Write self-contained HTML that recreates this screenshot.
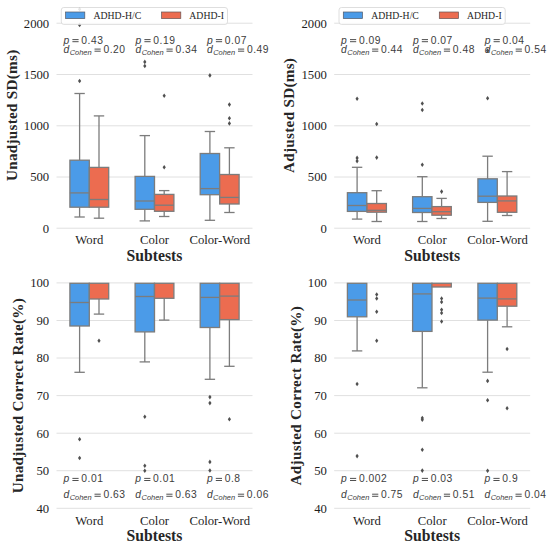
<!DOCTYPE html>
<html><head><meta charset="utf-8"><style>
html,body{margin:0;padding:0;background:#fff;width:550px;height:545px;overflow:hidden}
svg{display:block}
.tick{font-family:"Liberation Serif",serif;font-size:12.7px;fill:#1e1e1e}
.lab{font-family:"Liberation Serif",serif;font-size:15.7px;font-weight:bold;fill:#262626}
.ylab{font-family:"Liberation Serif",serif;font-size:15.2px;font-weight:bold;fill:#262626}
.leg{font-family:"Liberation Serif",serif;font-size:9.75px;fill:#262626}
.ann{font-family:"Liberation Sans",sans-serif;font-size:10.3px;fill:#3c3c3c}
.sub{font-size:7px}
</style></head><body>
<svg width="550" height="545" viewBox="0 0 550 545">
<rect width="550" height="545" fill="#fff"/>
<line x1="56.5" y1="23.2" x2="252.5" y2="23.2" stroke="#e0e0e0" stroke-width="1"/>
<text x="49.2" y="27.6" class="tick" text-anchor="end">2000</text>
<line x1="56.5" y1="74.5" x2="252.5" y2="74.5" stroke="#e0e0e0" stroke-width="1"/>
<text x="49.2" y="78.9" class="tick" text-anchor="end">1500</text>
<line x1="56.5" y1="125.8" x2="252.5" y2="125.8" stroke="#e0e0e0" stroke-width="1"/>
<text x="49.2" y="130.2" class="tick" text-anchor="end">1000</text>
<line x1="56.5" y1="177.0" x2="252.5" y2="177.0" stroke="#e0e0e0" stroke-width="1"/>
<text x="49.2" y="181.4" class="tick" text-anchor="end">500</text>
<line x1="56.5" y1="228.2" x2="252.5" y2="228.2" stroke="#e0e0e0" stroke-width="1"/>
<text x="49.2" y="232.6" class="tick" text-anchor="end">0</text>
<line x1="79.6" y1="93.5" x2="79.6" y2="160.2" stroke="#7c7c7c" stroke-width="1.3"/>
<line x1="74.4" y1="93.5" x2="84.8" y2="93.5" stroke="#7c7c7c" stroke-width="1.3"/>
<line x1="79.6" y1="207.2" x2="79.6" y2="217.0" stroke="#7c7c7c" stroke-width="1.3"/>
<line x1="74.4" y1="217.0" x2="84.8" y2="217.0" stroke="#7c7c7c" stroke-width="1.3"/>
<rect x="69.9" y="160.2" width="19.4" height="47.0" fill="#4b9be8" stroke="#7c7c7c" stroke-width="1.3"/>
<line x1="69.9" y1="192.9" x2="89.3" y2="192.9" stroke="#7c7c7c" stroke-width="1.3"/>
<path d="M79.6 78.7 L81.2 81.0 L79.6 83.3 L78.0 81.0 Z" fill="#505050"/>
<path d="M79.6 22.6 L81.2 24.9 L79.6 27.2 L78.0 24.9 Z" fill="#505050"/>
<path d="M79.6 7.0 L81.2 9.3 L79.6 11.6 L78.0 9.3 Z" fill="#505050"/>
<line x1="99.0" y1="115.9" x2="99.0" y2="167.4" stroke="#7c7c7c" stroke-width="1.3"/>
<line x1="93.8" y1="115.9" x2="104.2" y2="115.9" stroke="#7c7c7c" stroke-width="1.3"/>
<line x1="99.0" y1="207.2" x2="99.0" y2="218.2" stroke="#7c7c7c" stroke-width="1.3"/>
<line x1="93.8" y1="218.2" x2="104.2" y2="218.2" stroke="#7c7c7c" stroke-width="1.3"/>
<rect x="89.3" y="167.4" width="19.4" height="39.8" fill="#ec6c50" stroke="#7c7c7c" stroke-width="1.3"/>
<line x1="89.3" y1="199.5" x2="108.7" y2="199.5" stroke="#7c7c7c" stroke-width="1.3"/>
<line x1="144.8" y1="135.6" x2="144.8" y2="176.4" stroke="#7c7c7c" stroke-width="1.3"/>
<line x1="139.6" y1="135.6" x2="150.0" y2="135.6" stroke="#7c7c7c" stroke-width="1.3"/>
<line x1="144.8" y1="209.3" x2="144.8" y2="220.9" stroke="#7c7c7c" stroke-width="1.3"/>
<line x1="139.6" y1="220.9" x2="150.0" y2="220.9" stroke="#7c7c7c" stroke-width="1.3"/>
<rect x="135.1" y="176.4" width="19.4" height="32.9" fill="#4b9be8" stroke="#7c7c7c" stroke-width="1.3"/>
<line x1="135.1" y1="201.0" x2="154.5" y2="201.0" stroke="#7c7c7c" stroke-width="1.3"/>
<path d="M144.8 59.6 L146.4 61.9 L144.8 64.2 L143.2 61.9 Z" fill="#505050"/>
<path d="M144.8 63.7 L146.4 66.0 L144.8 68.3 L143.2 66.0 Z" fill="#505050"/>
<line x1="164.2" y1="190.6" x2="164.2" y2="194.4" stroke="#7c7c7c" stroke-width="1.3"/>
<line x1="159.0" y1="190.6" x2="169.4" y2="190.6" stroke="#7c7c7c" stroke-width="1.3"/>
<line x1="164.2" y1="211.3" x2="164.2" y2="216.5" stroke="#7c7c7c" stroke-width="1.3"/>
<line x1="159.0" y1="216.5" x2="169.4" y2="216.5" stroke="#7c7c7c" stroke-width="1.3"/>
<rect x="154.5" y="194.4" width="19.4" height="16.9" fill="#ec6c50" stroke="#7c7c7c" stroke-width="1.3"/>
<line x1="154.5" y1="205.2" x2="173.9" y2="205.2" stroke="#7c7c7c" stroke-width="1.3"/>
<path d="M164.2 93.4 L165.8 95.7 L164.2 98.0 L162.6 95.7 Z" fill="#505050"/>
<path d="M164.2 165.0 L165.8 167.3 L164.2 169.6 L162.6 167.3 Z" fill="#505050"/>
<line x1="209.9" y1="131.5" x2="209.9" y2="153.5" stroke="#7c7c7c" stroke-width="1.3"/>
<line x1="204.7" y1="131.5" x2="215.1" y2="131.5" stroke="#7c7c7c" stroke-width="1.3"/>
<line x1="209.9" y1="194.7" x2="209.9" y2="220.3" stroke="#7c7c7c" stroke-width="1.3"/>
<line x1="204.7" y1="220.3" x2="215.1" y2="220.3" stroke="#7c7c7c" stroke-width="1.3"/>
<rect x="200.2" y="153.5" width="19.4" height="41.2" fill="#4b9be8" stroke="#7c7c7c" stroke-width="1.3"/>
<line x1="200.2" y1="188.6" x2="219.6" y2="188.6" stroke="#7c7c7c" stroke-width="1.3"/>
<path d="M209.9 73.1 L211.5 75.4 L209.9 77.7 L208.3 75.4 Z" fill="#505050"/>
<line x1="229.4" y1="147.8" x2="229.4" y2="174.5" stroke="#7c7c7c" stroke-width="1.3"/>
<line x1="224.2" y1="147.8" x2="234.6" y2="147.8" stroke="#7c7c7c" stroke-width="1.3"/>
<line x1="229.4" y1="204.0" x2="229.4" y2="212.5" stroke="#7c7c7c" stroke-width="1.3"/>
<line x1="224.2" y1="212.5" x2="234.6" y2="212.5" stroke="#7c7c7c" stroke-width="1.3"/>
<rect x="219.7" y="174.5" width="19.4" height="29.5" fill="#ec6c50" stroke="#7c7c7c" stroke-width="1.3"/>
<line x1="219.7" y1="197.4" x2="239.1" y2="197.4" stroke="#7c7c7c" stroke-width="1.3"/>
<path d="M229.4 102.3 L231.0 104.6 L229.4 106.9 L227.8 104.6 Z" fill="#505050"/>
<path d="M229.4 116.0 L231.0 118.3 L229.4 120.6 L227.8 118.3 Z" fill="#505050"/>
<path d="M229.4 121.1 L231.0 123.4 L229.4 125.7 L227.8 123.4 Z" fill="#505050"/>
<text class="ann" y="43.6"><tspan x="63.5" font-style="italic">p</tspan><tspan x="81.3" textLength="21.6" lengthAdjust="spacing">0.43</tspan></text>
<text class="ann" y="53.1"><tspan x="63.5" font-style="italic">d</tspan><tspan x="69.7" dy="2.2" font-style="italic" class="sub" textLength="22" lengthAdjust="spacingAndGlyphs">Cohen</tspan><tspan x="103.4" dy="-2.2" textLength="21.6" lengthAdjust="spacing">0.20</tspan></text>
<path d="M72.4 39.60h6.2M72.4 41.70h6.2" stroke="#3c3c3c" stroke-width="0.9" fill="none"/>
<path d="M94.5 49.10h6.2M94.5 51.20h6.2" stroke="#3c3c3c" stroke-width="0.9" fill="none"/>
<text class="ann" y="43.6"><tspan x="135.5" font-style="italic">p</tspan><tspan x="153.3" textLength="21.6" lengthAdjust="spacing">0.19</tspan></text>
<text class="ann" y="53.1"><tspan x="135.5" font-style="italic">d</tspan><tspan x="141.7" dy="2.2" font-style="italic" class="sub" textLength="22" lengthAdjust="spacingAndGlyphs">Cohen</tspan><tspan x="175.4" dy="-2.2" textLength="21.6" lengthAdjust="spacing">0.34</tspan></text>
<path d="M144.4 39.60h6.2M144.4 41.70h6.2" stroke="#3c3c3c" stroke-width="0.9" fill="none"/>
<path d="M166.5 49.10h6.2M166.5 51.20h6.2" stroke="#3c3c3c" stroke-width="0.9" fill="none"/>
<text class="ann" y="43.6"><tspan x="207.0" font-style="italic">p</tspan><tspan x="224.8" textLength="21.6" lengthAdjust="spacing">0.07</tspan></text>
<text class="ann" y="53.1"><tspan x="207.0" font-style="italic">d</tspan><tspan x="213.2" dy="2.2" font-style="italic" class="sub" textLength="22" lengthAdjust="spacingAndGlyphs">Cohen</tspan><tspan x="246.9" dy="-2.2" textLength="21.6" lengthAdjust="spacing">0.49</tspan></text>
<path d="M215.9 39.60h6.2M215.9 41.70h6.2" stroke="#3c3c3c" stroke-width="0.9" fill="none"/>
<path d="M238.0 49.10h6.2M238.0 51.20h6.2" stroke="#3c3c3c" stroke-width="0.9" fill="none"/>
<text x="89.3" y="244.1" class="tick" text-anchor="middle">Word</text>
<text x="154.5" y="244.1" class="tick" text-anchor="middle">Color</text>
<text x="219.8" y="244.1" class="tick" text-anchor="middle">Color-Word</text>
<text x="154.5" y="260.9" class="lab" text-anchor="middle">Subtests</text>
<text transform="translate(16.6,115.4) rotate(-90)" x="0" y="0" class="ylab" text-anchor="middle" textLength="131.2" lengthAdjust="spacing">Unadjusted SD(ms)</text>
<rect x="61.3" y="7.5" width="166.2" height="16.9" rx="2.5" fill="#ffffff" fill-opacity="0.85" stroke="#d6d6d6" stroke-width="0.8"/>
<rect x="65.6" y="12.0" width="19.2" height="6.6" fill="#4b9be8" stroke="#555a66" stroke-width="0.7"/>
<text x="93.5" y="19.3" class="leg">ADHD-H/C</text>
<rect x="161.6" y="12.0" width="19.2" height="6.6" fill="#ec6c50" stroke="#665555" stroke-width="0.7"/>
<text x="189.3" y="19.3" class="leg">ADHD-I</text>
<line x1="334.2" y1="23.2" x2="530.2" y2="23.2" stroke="#e0e0e0" stroke-width="1"/>
<text x="326.9" y="27.6" class="tick" text-anchor="end">2000</text>
<line x1="334.2" y1="74.5" x2="530.2" y2="74.5" stroke="#e0e0e0" stroke-width="1"/>
<text x="326.9" y="78.9" class="tick" text-anchor="end">1500</text>
<line x1="334.2" y1="125.8" x2="530.2" y2="125.8" stroke="#e0e0e0" stroke-width="1"/>
<text x="326.9" y="130.2" class="tick" text-anchor="end">1000</text>
<line x1="334.2" y1="177.0" x2="530.2" y2="177.0" stroke="#e0e0e0" stroke-width="1"/>
<text x="326.9" y="181.4" class="tick" text-anchor="end">500</text>
<line x1="334.2" y1="228.2" x2="530.2" y2="228.2" stroke="#e0e0e0" stroke-width="1"/>
<text x="326.9" y="232.6" class="tick" text-anchor="end">0</text>
<line x1="357.1" y1="167.3" x2="357.1" y2="192.7" stroke="#7c7c7c" stroke-width="1.3"/>
<line x1="351.9" y1="167.3" x2="362.3" y2="167.3" stroke="#7c7c7c" stroke-width="1.3"/>
<line x1="357.1" y1="211.4" x2="357.1" y2="219.1" stroke="#7c7c7c" stroke-width="1.3"/>
<line x1="351.9" y1="219.1" x2="362.3" y2="219.1" stroke="#7c7c7c" stroke-width="1.3"/>
<rect x="347.4" y="192.7" width="19.4" height="18.7" fill="#4b9be8" stroke="#7c7c7c" stroke-width="1.3"/>
<line x1="347.4" y1="205.5" x2="366.8" y2="205.5" stroke="#7c7c7c" stroke-width="1.3"/>
<path d="M357.1 96.4 L358.7 98.7 L357.1 101.0 L355.5 98.7 Z" fill="#505050"/>
<path d="M357.1 155.6 L358.7 157.9 L357.1 160.2 L355.5 157.9 Z" fill="#505050"/>
<path d="M357.1 158.8 L358.7 161.1 L357.1 163.4 L355.5 161.1 Z" fill="#505050"/>
<line x1="376.7" y1="190.7" x2="376.7" y2="203.5" stroke="#7c7c7c" stroke-width="1.3"/>
<line x1="371.5" y1="190.7" x2="381.9" y2="190.7" stroke="#7c7c7c" stroke-width="1.3"/>
<line x1="376.7" y1="212.2" x2="376.7" y2="221.5" stroke="#7c7c7c" stroke-width="1.3"/>
<line x1="371.5" y1="221.5" x2="381.9" y2="221.5" stroke="#7c7c7c" stroke-width="1.3"/>
<rect x="367.0" y="203.5" width="19.4" height="8.7" fill="#ec6c50" stroke="#7c7c7c" stroke-width="1.3"/>
<line x1="367.0" y1="210.3" x2="386.4" y2="210.3" stroke="#7c7c7c" stroke-width="1.3"/>
<path d="M376.7 121.7 L378.3 124.0 L376.7 126.3 L375.1 124.0 Z" fill="#505050"/>
<path d="M376.7 155.3 L378.3 157.6 L376.7 159.9 L375.1 157.6 Z" fill="#505050"/>
<line x1="422.3" y1="176.7" x2="422.3" y2="196.7" stroke="#7c7c7c" stroke-width="1.3"/>
<line x1="417.1" y1="176.7" x2="427.5" y2="176.7" stroke="#7c7c7c" stroke-width="1.3"/>
<line x1="422.3" y1="212.5" x2="422.3" y2="221.5" stroke="#7c7c7c" stroke-width="1.3"/>
<line x1="417.1" y1="221.5" x2="427.5" y2="221.5" stroke="#7c7c7c" stroke-width="1.3"/>
<rect x="412.6" y="196.7" width="19.4" height="15.8" fill="#4b9be8" stroke="#7c7c7c" stroke-width="1.3"/>
<line x1="412.6" y1="208.4" x2="432.0" y2="208.4" stroke="#7c7c7c" stroke-width="1.3"/>
<path d="M422.3 101.2 L423.9 103.5 L422.3 105.8 L420.7 103.5 Z" fill="#505050"/>
<path d="M422.3 107.7 L423.9 110.0 L422.3 112.3 L420.7 110.0 Z" fill="#505050"/>
<path d="M422.3 162.5 L423.9 164.8 L422.3 167.1 L420.7 164.8 Z" fill="#505050"/>
<line x1="441.6" y1="198.4" x2="441.6" y2="206.6" stroke="#7c7c7c" stroke-width="1.3"/>
<line x1="436.4" y1="198.4" x2="446.8" y2="198.4" stroke="#7c7c7c" stroke-width="1.3"/>
<line x1="441.6" y1="215.2" x2="441.6" y2="218.5" stroke="#7c7c7c" stroke-width="1.3"/>
<line x1="436.4" y1="218.5" x2="446.8" y2="218.5" stroke="#7c7c7c" stroke-width="1.3"/>
<rect x="431.9" y="206.6" width="19.4" height="8.6" fill="#ec6c50" stroke="#7c7c7c" stroke-width="1.3"/>
<line x1="431.9" y1="211.7" x2="451.3" y2="211.7" stroke="#7c7c7c" stroke-width="1.3"/>
<path d="M441.6 189.3 L443.2 191.6 L441.6 193.9 L440.0 191.6 Z" fill="#505050"/>
<line x1="487.6" y1="156.2" x2="487.6" y2="178.8" stroke="#7c7c7c" stroke-width="1.3"/>
<line x1="482.4" y1="156.2" x2="492.8" y2="156.2" stroke="#7c7c7c" stroke-width="1.3"/>
<line x1="487.6" y1="202.4" x2="487.6" y2="221.3" stroke="#7c7c7c" stroke-width="1.3"/>
<line x1="482.4" y1="221.3" x2="492.8" y2="221.3" stroke="#7c7c7c" stroke-width="1.3"/>
<rect x="477.9" y="178.8" width="19.4" height="23.6" fill="#4b9be8" stroke="#7c7c7c" stroke-width="1.3"/>
<line x1="477.9" y1="196.2" x2="497.3" y2="196.2" stroke="#7c7c7c" stroke-width="1.3"/>
<path d="M487.6 95.9 L489.2 98.2 L487.6 100.5 L486.0 98.2 Z" fill="#505050"/>
<path d="M487.6 48.3 L489.2 50.6 L487.6 52.9 L486.0 50.6 Z" fill="#505050"/>
<line x1="507.1" y1="171.6" x2="507.1" y2="196.0" stroke="#7c7c7c" stroke-width="1.3"/>
<line x1="501.9" y1="171.6" x2="512.3" y2="171.6" stroke="#7c7c7c" stroke-width="1.3"/>
<line x1="507.1" y1="212.3" x2="507.1" y2="215.5" stroke="#7c7c7c" stroke-width="1.3"/>
<line x1="501.9" y1="215.5" x2="512.3" y2="215.5" stroke="#7c7c7c" stroke-width="1.3"/>
<rect x="497.4" y="196.0" width="19.4" height="16.3" fill="#ec6c50" stroke="#7c7c7c" stroke-width="1.3"/>
<line x1="497.4" y1="200.9" x2="516.8" y2="200.9" stroke="#7c7c7c" stroke-width="1.3"/>
<text class="ann" y="43.6"><tspan x="341.1" font-style="italic">p</tspan><tspan x="358.9" textLength="21.6" lengthAdjust="spacing">0.09</tspan></text>
<text class="ann" y="53.1"><tspan x="341.1" font-style="italic">d</tspan><tspan x="347.3" dy="2.2" font-style="italic" class="sub" textLength="22" lengthAdjust="spacingAndGlyphs">Cohen</tspan><tspan x="381.0" dy="-2.2" textLength="21.6" lengthAdjust="spacing">0.44</tspan></text>
<path d="M350.0 39.60h6.2M350.0 41.70h6.2" stroke="#3c3c3c" stroke-width="0.9" fill="none"/>
<path d="M372.1 49.10h6.2M372.1 51.20h6.2" stroke="#3c3c3c" stroke-width="0.9" fill="none"/>
<text class="ann" y="43.6"><tspan x="412.9" font-style="italic">p</tspan><tspan x="430.7" textLength="21.6" lengthAdjust="spacing">0.07</tspan></text>
<text class="ann" y="53.1"><tspan x="412.9" font-style="italic">d</tspan><tspan x="419.1" dy="2.2" font-style="italic" class="sub" textLength="22" lengthAdjust="spacingAndGlyphs">Cohen</tspan><tspan x="452.8" dy="-2.2" textLength="21.6" lengthAdjust="spacing">0.48</tspan></text>
<path d="M421.8 39.60h6.2M421.8 41.70h6.2" stroke="#3c3c3c" stroke-width="0.9" fill="none"/>
<path d="M443.9 49.10h6.2M443.9 51.20h6.2" stroke="#3c3c3c" stroke-width="0.9" fill="none"/>
<text class="ann" y="43.6"><tspan x="484.7" font-style="italic">p</tspan><tspan x="502.5" textLength="21.6" lengthAdjust="spacing">0.04</tspan></text>
<text class="ann" y="53.1"><tspan x="484.7" font-style="italic">d</tspan><tspan x="490.9" dy="2.2" font-style="italic" class="sub" textLength="22" lengthAdjust="spacingAndGlyphs">Cohen</tspan><tspan x="524.6" dy="-2.2" textLength="21.6" lengthAdjust="spacing">0.54</tspan></text>
<path d="M493.6 39.60h6.2M493.6 41.70h6.2" stroke="#3c3c3c" stroke-width="0.9" fill="none"/>
<path d="M515.7 49.10h6.2M515.7 51.20h6.2" stroke="#3c3c3c" stroke-width="0.9" fill="none"/>
<text x="367.0" y="244.1" class="tick" text-anchor="middle">Word</text>
<text x="432.2" y="244.1" class="tick" text-anchor="middle">Color</text>
<text x="497.5" y="244.1" class="tick" text-anchor="middle">Color-Word</text>
<text x="432.2" y="260.9" class="lab" text-anchor="middle">Subtests</text>
<text transform="translate(294.1,115.5) rotate(-90)" x="0" y="0" class="ylab" text-anchor="middle" textLength="114.9" lengthAdjust="spacing">Adjusted SD(ms)</text>
<rect x="339.0" y="7.5" width="166.2" height="16.9" rx="2.5" fill="#ffffff" fill-opacity="0.85" stroke="#d6d6d6" stroke-width="0.8"/>
<rect x="343.3" y="12.0" width="19.2" height="6.6" fill="#4b9be8" stroke="#555a66" stroke-width="0.7"/>
<text x="371.2" y="19.3" class="leg">ADHD-H/C</text>
<rect x="439.3" y="12.0" width="19.2" height="6.6" fill="#ec6c50" stroke="#665555" stroke-width="0.7"/>
<text x="467.0" y="19.3" class="leg">ADHD-I</text>
<line x1="56.5" y1="282.9" x2="252.5" y2="282.9" stroke="#e0e0e0" stroke-width="1"/>
<text x="49.2" y="287.3" class="tick" text-anchor="end">100</text>
<line x1="56.5" y1="320.5" x2="252.5" y2="320.5" stroke="#e0e0e0" stroke-width="1"/>
<text x="49.2" y="324.9" class="tick" text-anchor="end">90</text>
<line x1="56.5" y1="358.0" x2="252.5" y2="358.0" stroke="#e0e0e0" stroke-width="1"/>
<text x="49.2" y="362.4" class="tick" text-anchor="end">80</text>
<line x1="56.5" y1="395.6" x2="252.5" y2="395.6" stroke="#e0e0e0" stroke-width="1"/>
<text x="49.2" y="400.0" class="tick" text-anchor="end">70</text>
<line x1="56.5" y1="433.2" x2="252.5" y2="433.2" stroke="#e0e0e0" stroke-width="1"/>
<text x="49.2" y="437.6" class="tick" text-anchor="end">60</text>
<line x1="56.5" y1="470.7" x2="252.5" y2="470.7" stroke="#e0e0e0" stroke-width="1"/>
<text x="49.2" y="475.1" class="tick" text-anchor="end">50</text>
<line x1="56.5" y1="508.3" x2="252.5" y2="508.3" stroke="#e0e0e0" stroke-width="1"/>
<text x="49.2" y="512.7" class="tick" text-anchor="end">40</text>
<line x1="79.6" y1="326.0" x2="79.6" y2="372.3" stroke="#7c7c7c" stroke-width="1.3"/>
<line x1="74.4" y1="372.3" x2="84.8" y2="372.3" stroke="#7c7c7c" stroke-width="1.3"/>
<rect x="69.9" y="283.3" width="19.4" height="42.7" fill="#4b9be8" stroke="#7c7c7c" stroke-width="1.3"/>
<line x1="69.9" y1="302.5" x2="89.3" y2="302.5" stroke="#7c7c7c" stroke-width="1.3"/>
<path d="M79.6 437.0 L81.2 439.3 L79.6 441.6 L78.0 439.3 Z" fill="#505050"/>
<path d="M79.6 455.7 L81.2 458.0 L79.6 460.3 L78.0 458.0 Z" fill="#505050"/>
<line x1="99.0" y1="299.0" x2="99.0" y2="314.1" stroke="#7c7c7c" stroke-width="1.3"/>
<line x1="93.8" y1="314.1" x2="104.2" y2="314.1" stroke="#7c7c7c" stroke-width="1.3"/>
<rect x="89.3" y="283.3" width="19.4" height="15.7" fill="#ec6c50" stroke="#7c7c7c" stroke-width="1.3"/>
<path d="M99.0 338.4 L100.6 340.7 L99.0 343.0 L97.4 340.7 Z" fill="#505050"/>
<line x1="144.8" y1="331.9" x2="144.8" y2="361.9" stroke="#7c7c7c" stroke-width="1.3"/>
<line x1="139.6" y1="361.9" x2="150.0" y2="361.9" stroke="#7c7c7c" stroke-width="1.3"/>
<rect x="135.1" y="283.3" width="19.4" height="48.6" fill="#4b9be8" stroke="#7c7c7c" stroke-width="1.3"/>
<line x1="135.1" y1="296.5" x2="154.5" y2="296.5" stroke="#7c7c7c" stroke-width="1.3"/>
<path d="M144.8 414.5 L146.4 416.8 L144.8 419.1 L143.2 416.8 Z" fill="#505050"/>
<path d="M144.8 463.4 L146.4 465.7 L144.8 468.0 L143.2 465.7 Z" fill="#505050"/>
<path d="M144.8 468.4 L146.4 470.7 L144.8 473.0 L143.2 470.7 Z" fill="#505050"/>
<line x1="164.2" y1="298.3" x2="164.2" y2="320.1" stroke="#7c7c7c" stroke-width="1.3"/>
<line x1="159.0" y1="320.1" x2="169.4" y2="320.1" stroke="#7c7c7c" stroke-width="1.3"/>
<rect x="154.5" y="283.3" width="19.4" height="15.0" fill="#ec6c50" stroke="#7c7c7c" stroke-width="1.3"/>
<line x1="209.9" y1="327.5" x2="209.9" y2="379.3" stroke="#7c7c7c" stroke-width="1.3"/>
<line x1="204.7" y1="379.3" x2="215.1" y2="379.3" stroke="#7c7c7c" stroke-width="1.3"/>
<rect x="200.2" y="283.3" width="19.4" height="44.2" fill="#4b9be8" stroke="#7c7c7c" stroke-width="1.3"/>
<line x1="200.2" y1="297.4" x2="219.6" y2="297.4" stroke="#7c7c7c" stroke-width="1.3"/>
<path d="M209.9 394.8 L211.5 397.1 L209.9 399.4 L208.3 397.1 Z" fill="#505050"/>
<path d="M209.9 400.8 L211.5 403.1 L209.9 405.4 L208.3 403.1 Z" fill="#505050"/>
<path d="M209.9 459.6 L211.5 461.9 L209.9 464.2 L208.3 461.9 Z" fill="#505050"/>
<path d="M209.9 468.2 L211.5 470.5 L209.9 472.8 L208.3 470.5 Z" fill="#505050"/>
<line x1="229.4" y1="319.6" x2="229.4" y2="366.3" stroke="#7c7c7c" stroke-width="1.3"/>
<line x1="224.2" y1="366.3" x2="234.6" y2="366.3" stroke="#7c7c7c" stroke-width="1.3"/>
<rect x="219.7" y="283.3" width="19.4" height="36.3" fill="#ec6c50" stroke="#7c7c7c" stroke-width="1.3"/>
<line x1="219.7" y1="296.1" x2="239.1" y2="296.1" stroke="#7c7c7c" stroke-width="1.3"/>
<path d="M229.4 417.0 L231.0 419.3 L229.4 421.6 L227.8 419.3 Z" fill="#505050"/>
<text class="ann" y="482.4"><tspan x="63.5" font-style="italic">p</tspan><tspan x="81.3" textLength="21.6" lengthAdjust="spacing">0.01</tspan></text>
<text class="ann" y="498.2"><tspan x="63.5" font-style="italic">d</tspan><tspan x="69.7" dy="2.2" font-style="italic" class="sub" textLength="22" lengthAdjust="spacingAndGlyphs">Cohen</tspan><tspan x="103.4" dy="-2.2" textLength="21.6" lengthAdjust="spacing">0.63</tspan></text>
<path d="M72.4 478.40h6.2M72.4 480.50h6.2" stroke="#3c3c3c" stroke-width="0.9" fill="none"/>
<path d="M94.5 494.20h6.2M94.5 496.30h6.2" stroke="#3c3c3c" stroke-width="0.9" fill="none"/>
<text class="ann" y="482.4"><tspan x="135.3" font-style="italic">p</tspan><tspan x="153.1" textLength="21.6" lengthAdjust="spacing">0.01</tspan></text>
<text class="ann" y="498.2"><tspan x="135.3" font-style="italic">d</tspan><tspan x="141.5" dy="2.2" font-style="italic" class="sub" textLength="22" lengthAdjust="spacingAndGlyphs">Cohen</tspan><tspan x="175.2" dy="-2.2" textLength="21.6" lengthAdjust="spacing">0.63</tspan></text>
<path d="M144.2 478.40h6.2M144.2 480.50h6.2" stroke="#3c3c3c" stroke-width="0.9" fill="none"/>
<path d="M166.3 494.20h6.2M166.3 496.30h6.2" stroke="#3c3c3c" stroke-width="0.9" fill="none"/>
<text class="ann" y="482.4"><tspan x="206.9" font-style="italic">p</tspan><tspan x="224.7" textLength="15.4" lengthAdjust="spacing">0.8</tspan></text>
<text class="ann" y="498.2"><tspan x="206.9" font-style="italic">d</tspan><tspan x="213.1" dy="2.2" font-style="italic" class="sub" textLength="22" lengthAdjust="spacingAndGlyphs">Cohen</tspan><tspan x="246.8" dy="-2.2" textLength="21.6" lengthAdjust="spacing">0.06</tspan></text>
<path d="M215.8 478.40h6.2M215.8 480.50h6.2" stroke="#3c3c3c" stroke-width="0.9" fill="none"/>
<path d="M237.9 494.20h6.2M237.9 496.30h6.2" stroke="#3c3c3c" stroke-width="0.9" fill="none"/>
<text x="89.3" y="524.5" class="tick" text-anchor="middle">Word</text>
<text x="154.5" y="524.5" class="tick" text-anchor="middle">Color</text>
<text x="219.8" y="524.5" class="tick" text-anchor="middle">Color-Word</text>
<text x="154.5" y="541.3" class="lab" text-anchor="middle">Subtests</text>
<text transform="translate(23.4,395.7) rotate(-90)" x="0" y="0" class="ylab" text-anchor="middle" textLength="195.0" lengthAdjust="spacing">Unadjusted Correct Rate(%)</text>
<line x1="334.2" y1="282.9" x2="530.2" y2="282.9" stroke="#e0e0e0" stroke-width="1"/>
<text x="326.9" y="287.3" class="tick" text-anchor="end">100</text>
<line x1="334.2" y1="320.5" x2="530.2" y2="320.5" stroke="#e0e0e0" stroke-width="1"/>
<text x="326.9" y="324.9" class="tick" text-anchor="end">90</text>
<line x1="334.2" y1="358.0" x2="530.2" y2="358.0" stroke="#e0e0e0" stroke-width="1"/>
<text x="326.9" y="362.4" class="tick" text-anchor="end">80</text>
<line x1="334.2" y1="395.6" x2="530.2" y2="395.6" stroke="#e0e0e0" stroke-width="1"/>
<text x="326.9" y="400.0" class="tick" text-anchor="end">70</text>
<line x1="334.2" y1="433.2" x2="530.2" y2="433.2" stroke="#e0e0e0" stroke-width="1"/>
<text x="326.9" y="437.6" class="tick" text-anchor="end">60</text>
<line x1="334.2" y1="470.7" x2="530.2" y2="470.7" stroke="#e0e0e0" stroke-width="1"/>
<text x="326.9" y="475.1" class="tick" text-anchor="end">50</text>
<line x1="334.2" y1="508.3" x2="530.2" y2="508.3" stroke="#e0e0e0" stroke-width="1"/>
<text x="326.9" y="512.7" class="tick" text-anchor="end">40</text>
<line x1="357.1" y1="316.8" x2="357.1" y2="350.9" stroke="#7c7c7c" stroke-width="1.3"/>
<line x1="351.9" y1="350.9" x2="362.3" y2="350.9" stroke="#7c7c7c" stroke-width="1.3"/>
<rect x="347.4" y="283.3" width="19.4" height="33.5" fill="#4b9be8" stroke="#7c7c7c" stroke-width="1.3"/>
<line x1="347.4" y1="300.0" x2="366.8" y2="300.0" stroke="#7c7c7c" stroke-width="1.3"/>
<path d="M357.1 381.7 L358.7 384.0 L357.1 386.3 L355.5 384.0 Z" fill="#505050"/>
<path d="M357.1 453.8 L358.7 456.1 L357.1 458.4 L355.5 456.1 Z" fill="#505050"/>
<rect x="367.0" y="283.3" width="19.4" height="0.0" fill="#ec6c50" stroke="#7c7c7c" stroke-width="1.3"/>
<path d="M376.7 292.2 L378.3 294.5 L376.7 296.8 L375.1 294.5 Z" fill="#505050"/>
<path d="M376.7 296.2 L378.3 298.5 L376.7 300.8 L375.1 298.5 Z" fill="#505050"/>
<path d="M376.7 309.4 L378.3 311.7 L376.7 314.0 L375.1 311.7 Z" fill="#505050"/>
<path d="M376.7 338.4 L378.3 340.7 L376.7 343.0 L375.1 340.7 Z" fill="#505050"/>
<line x1="422.3" y1="331.4" x2="422.3" y2="387.8" stroke="#7c7c7c" stroke-width="1.3"/>
<line x1="417.1" y1="387.8" x2="427.5" y2="387.8" stroke="#7c7c7c" stroke-width="1.3"/>
<rect x="412.6" y="283.3" width="19.4" height="48.1" fill="#4b9be8" stroke="#7c7c7c" stroke-width="1.3"/>
<line x1="412.6" y1="293.9" x2="432.0" y2="293.9" stroke="#7c7c7c" stroke-width="1.3"/>
<path d="M422.3 415.7 L423.9 418.0 L422.3 420.3 L420.7 418.0 Z" fill="#505050"/>
<path d="M422.3 417.5 L423.9 419.8 L422.3 422.1 L420.7 419.8 Z" fill="#505050"/>
<path d="M422.3 447.4 L423.9 449.7 L422.3 452.0 L420.7 449.7 Z" fill="#505050"/>
<path d="M422.3 468.3 L423.9 470.6 L422.3 472.9 L420.7 470.6 Z" fill="#505050"/>
<rect x="431.9" y="283.3" width="19.4" height="3.7" fill="#ec6c50" stroke="#7c7c7c" stroke-width="1.3"/>
<path d="M441.6 296.2 L443.2 298.5 L441.6 300.8 L440.0 298.5 Z" fill="#505050"/>
<path d="M441.6 299.7 L443.2 302.0 L441.6 304.3 L440.0 302.0 Z" fill="#505050"/>
<path d="M441.6 307.4 L443.2 309.7 L441.6 312.0 L440.0 309.7 Z" fill="#505050"/>
<path d="M441.6 310.7 L443.2 313.0 L441.6 315.3 L440.0 313.0 Z" fill="#505050"/>
<path d="M441.6 319.2 L443.2 321.5 L441.6 323.8 L440.0 321.5 Z" fill="#505050"/>
<line x1="487.6" y1="320.1" x2="487.6" y2="372.2" stroke="#7c7c7c" stroke-width="1.3"/>
<line x1="482.4" y1="372.2" x2="492.8" y2="372.2" stroke="#7c7c7c" stroke-width="1.3"/>
<rect x="477.9" y="283.3" width="19.4" height="36.8" fill="#4b9be8" stroke="#7c7c7c" stroke-width="1.3"/>
<line x1="477.9" y1="298.1" x2="497.3" y2="298.1" stroke="#7c7c7c" stroke-width="1.3"/>
<path d="M487.6 378.6 L489.2 380.9 L487.6 383.2 L486.0 380.9 Z" fill="#505050"/>
<path d="M487.6 397.9 L489.2 400.2 L487.6 402.5 L486.0 400.2 Z" fill="#505050"/>
<path d="M487.6 468.4 L489.2 470.7 L487.6 473.0 L486.0 470.7 Z" fill="#505050"/>
<line x1="507.1" y1="306.2" x2="507.1" y2="326.8" stroke="#7c7c7c" stroke-width="1.3"/>
<line x1="501.9" y1="326.8" x2="512.3" y2="326.8" stroke="#7c7c7c" stroke-width="1.3"/>
<rect x="497.4" y="283.3" width="19.4" height="22.9" fill="#ec6c50" stroke="#7c7c7c" stroke-width="1.3"/>
<line x1="497.4" y1="298.9" x2="516.8" y2="298.9" stroke="#7c7c7c" stroke-width="1.3"/>
<path d="M507.1 346.7 L508.7 349.0 L507.1 351.3 L505.5 349.0 Z" fill="#505050"/>
<path d="M507.1 405.9 L508.7 408.2 L507.1 410.5 L505.5 408.2 Z" fill="#505050"/>
<text class="ann" y="482.4"><tspan x="341.1" font-style="italic">p</tspan><tspan x="358.9" textLength="27.8" lengthAdjust="spacing">0.002</tspan></text>
<text class="ann" y="498.2"><tspan x="341.1" font-style="italic">d</tspan><tspan x="347.3" dy="2.2" font-style="italic" class="sub" textLength="22" lengthAdjust="spacingAndGlyphs">Cohen</tspan><tspan x="381.0" dy="-2.2" textLength="21.6" lengthAdjust="spacing">0.75</tspan></text>
<path d="M350.0 478.40h6.2M350.0 480.50h6.2" stroke="#3c3c3c" stroke-width="0.9" fill="none"/>
<path d="M372.1 494.20h6.2M372.1 496.30h6.2" stroke="#3c3c3c" stroke-width="0.9" fill="none"/>
<text class="ann" y="482.4"><tspan x="412.9" font-style="italic">p</tspan><tspan x="430.7" textLength="21.6" lengthAdjust="spacing">0.03</tspan></text>
<text class="ann" y="498.2"><tspan x="412.9" font-style="italic">d</tspan><tspan x="419.1" dy="2.2" font-style="italic" class="sub" textLength="22" lengthAdjust="spacingAndGlyphs">Cohen</tspan><tspan x="452.8" dy="-2.2" textLength="21.6" lengthAdjust="spacing">0.51</tspan></text>
<path d="M421.8 478.40h6.2M421.8 480.50h6.2" stroke="#3c3c3c" stroke-width="0.9" fill="none"/>
<path d="M443.9 494.20h6.2M443.9 496.30h6.2" stroke="#3c3c3c" stroke-width="0.9" fill="none"/>
<text class="ann" y="482.4"><tspan x="484.5" font-style="italic">p</tspan><tspan x="502.3" textLength="15.4" lengthAdjust="spacing">0.9</tspan></text>
<text class="ann" y="498.2"><tspan x="484.5" font-style="italic">d</tspan><tspan x="490.7" dy="2.2" font-style="italic" class="sub" textLength="22" lengthAdjust="spacingAndGlyphs">Cohen</tspan><tspan x="524.4" dy="-2.2" textLength="21.6" lengthAdjust="spacing">0.04</tspan></text>
<path d="M493.4 478.40h6.2M493.4 480.50h6.2" stroke="#3c3c3c" stroke-width="0.9" fill="none"/>
<path d="M515.5 494.20h6.2M515.5 496.30h6.2" stroke="#3c3c3c" stroke-width="0.9" fill="none"/>
<text x="367.0" y="524.5" class="tick" text-anchor="middle">Word</text>
<text x="432.2" y="524.5" class="tick" text-anchor="middle">Color</text>
<text x="497.5" y="524.5" class="tick" text-anchor="middle">Color-Word</text>
<text x="432.2" y="541.3" class="lab" text-anchor="middle">Subtests</text>
<text transform="translate(301.3,395.8) rotate(-90)" x="0" y="0" class="ylab" text-anchor="middle" textLength="179.3" lengthAdjust="spacing">Adjusted Correct Rate(%)</text>
</svg>
</body></html>
